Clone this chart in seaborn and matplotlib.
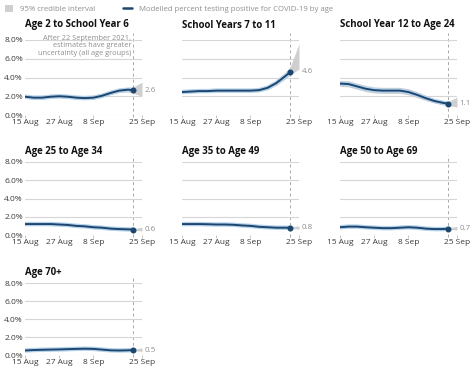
import numpy as np
import pandas as pd
import matplotlib
matplotlib.use("Agg")
import matplotlib.pyplot as plt
from matplotlib.patches import Patch
from matplotlib.lines import Line2D
import seaborn as sns

sns.set_theme(style="white")
plt.rcParams['font.family'] = ['Open Sans', 'DejaVu Sans']

# ---------------- data ----------------
line_dates = ["2021-08-15", "2021-08-18", "2021-08-21", "2021-08-24", "2021-08-27",
              "2021-08-30", "2021-09-02", "2021-09-05", "2021-09-08", "2021-09-11",
              "2021-09-14", "2021-09-17", "2021-09-20", "2021-09-22"]
ci_dates = line_dates + ["2021-09-25"]

titles = ["Age 2 to School Year 6", "School Years 7 to 11", "School Year 12 to Age 24",
          "Age 25 to Age 34", "Age 35 to Age 49", "Age 50 to Age 69", "Age 70+"]
end_labels = ["2.6", "4.6", "1.1", "0.6", "0.8", "0.7", "0.5"]

est_age2_y6 = [1.95, 1.85, 1.85, 1.95, 2.0, 1.95, 1.85, 1.8, 1.85, 2.05, 2.35, 2.6, 2.7, 2.65]
lo_age2_y6 = [1.8, 1.7, 1.7, 1.8, 1.85, 1.8, 1.7, 1.65, 1.7, 1.9, 2.2, 2.4, 2.45, 2.3, 2.0]
hi_age2_y6 = [2.1, 2.0, 2.0, 2.1, 2.15, 2.1, 2.0, 1.95, 2.0, 2.2, 2.5, 2.8, 2.95, 3.0, 3.5]

est_y7_y11 = [2.45, 2.5, 2.55, 2.55, 2.6, 2.6, 2.6, 2.6, 2.6, 2.65, 2.9, 3.4, 4.1, 4.6]
lo_y7_y11 = [2.3, 2.35, 2.4, 2.4, 2.45, 2.45, 2.45, 2.45, 2.45, 2.5, 2.7, 3.15, 3.8, 4.3, 4.9]
hi_y7_y11 = [2.6, 2.65, 2.7, 2.7, 2.75, 2.75, 2.75, 2.75, 2.75, 2.8, 3.1, 3.7, 4.5, 5.2, 7.6]

est_y12_24 = [3.35, 3.3, 3.05, 2.8, 2.65, 2.6, 2.6, 2.6, 2.45, 2.15, 1.8, 1.5, 1.3, 1.2]
lo_y12_24 = [3.05, 3.0, 2.75, 2.5, 2.35, 2.3, 2.3, 2.3, 2.15, 1.85, 1.55, 1.3, 1.1, 1.0, 0.85]
hi_y12_24 = [3.7, 3.65, 3.4, 3.15, 3.0, 2.95, 2.95, 2.95, 2.8, 2.5, 2.1, 1.75, 1.55, 1.45, 1.9]

est_25_34 = [1.2, 1.2, 1.2, 1.2, 1.15, 1.1, 1.0, 0.95, 0.85, 0.8, 0.7, 0.65, 0.62, 0.6]
lo_25_34 = [1.1, 1.1, 1.1, 1.1, 1.05, 1.0, 0.92, 0.87, 0.78, 0.72, 0.63, 0.58, 0.55, 0.52, 0.45]
hi_25_34 = [1.3, 1.3, 1.3, 1.3, 1.25, 1.2, 1.08, 1.03, 0.92, 0.88, 0.77, 0.72, 0.7, 0.7, 0.85]

est_35_49 = [1.2, 1.2, 1.2, 1.18, 1.15, 1.15, 1.12, 1.05, 1.0, 0.9, 0.85, 0.8, 0.8, 0.8]
lo_35_49 = [1.1, 1.1, 1.1, 1.1, 1.07, 1.07, 1.04, 0.98, 0.93, 0.83, 0.78, 0.73, 0.72, 0.71, 0.65]
hi_35_49 = [1.3, 1.3, 1.3, 1.26, 1.23, 1.23, 1.2, 1.12, 1.07, 0.97, 0.92, 0.87, 0.88, 0.9, 1.0]

est_50_69 = [0.85, 0.92, 0.92, 0.85, 0.8, 0.75, 0.75, 0.8, 0.85, 0.8, 0.7, 0.65, 0.65, 0.7]
lo_50_69 = [0.77, 0.85, 0.85, 0.78, 0.73, 0.68, 0.68, 0.73, 0.78, 0.73, 0.63, 0.58, 0.58, 0.62, 0.55]
hi_50_69 = [0.93, 0.99, 0.99, 0.92, 0.87, 0.82, 0.82, 0.87, 0.92, 0.87, 0.77, 0.72, 0.73, 0.78, 0.95]

est_70 = [0.5, 0.55, 0.58, 0.6, 0.62, 0.65, 0.68, 0.7, 0.68, 0.6, 0.52, 0.5, 0.52, 0.55]
lo_70 = [0.43, 0.48, 0.51, 0.53, 0.55, 0.58, 0.61, 0.63, 0.61, 0.53, 0.45, 0.43, 0.45, 0.47, 0.4]
hi_70 = [0.57, 0.62, 0.65, 0.67, 0.69, 0.72, 0.75, 0.77, 0.75, 0.67, 0.59, 0.57, 0.6, 0.63, 0.8]

estimates = [est_age2_y6, est_y7_y11, est_y12_24, est_25_34, est_35_49, est_50_69, est_70]
lows = [lo_age2_y6, lo_y7_y11, lo_y12_24, lo_25_34, lo_35_49, lo_50_69, lo_70]
highs = [hi_age2_y6, hi_y7_y11, hi_y12_24, hi_25_34, hi_35_49, hi_50_69, hi_70]

yticks = [0, 2, 4, 6, 8]
ytick_labels = ["0.0%", "2.0%", "4.0%", "6.0%", "8.0%"]
xtick_dates = ["2021-08-15", "2021-08-27", "2021-09-08", "2021-09-25"]
xtick_labels = ["15 Aug", "27 Aug", "8 Sep", "25 Sep"]
cutoff_date = "2021-09-22"
note = "After 22 September 2021,\nestimates have greater\nuncertainty (all age groups)"

# ---------------- layout ----------------
W, H = 474, 374
fig = plt.figure(figsize=(W / 100, H / 100), dpi=100)

col_lefts = [25, 182, 340]
col_width = 117
row_tops = [40, 162, 283]
row_heights = [75, 73, 72]

LINE = "#1d466e"
HALO = "#b4d2ec"
CI = "#cfcfcf"
GRID = "#d6d6d6"
TXT = "#3c3c3c"
GREY_TXT = "#8f8f8f"

ld = pd.to_datetime(line_dates)
cd = pd.to_datetime(ci_dates)
cut = pd.to_datetime(cutoff_date)

for i in range(7):
    r, c = divmod(i, 3)
    left = col_lefts[c]
    top = row_tops[r]
    h = row_heights[r]
    ax = fig.add_axes([left / W, (H - top - h) / H, col_width / W, h / H])

    ax.fill_between(cd, lows[i], highs[i], color=CI, linewidth=0, zorder=1)
    df = pd.DataFrame({"date": ld, "value": estimates[i]})
    sns.lineplot(data=df, x="date", y="value", ax=ax, color=HALO, linewidth=3.2,
                 zorder=2, solid_capstyle="round")
    sns.lineplot(data=df, x="date", y="value", ax=ax, color=LINE, linewidth=1.4,
                 zorder=3, solid_capstyle="round")
    ax.plot([ld[-1]], [estimates[i][-1]], "o", color=LINE, markersize=3.3, zorder=4)

    ax.set_xlim(pd.to_datetime(xtick_dates[0]), pd.to_datetime(xtick_dates[-1]))
    ax.set_ylim(0, 8)
    ax.set_yticks(yticks)
    ax.yaxis.grid(True, color=GRID, linewidth=0.8)
    ax.set_axisbelow(True)
    for s in ax.spines.values():
        s.set_visible(False)
    if c == 0:
        ax.set_yticklabels(ytick_labels, fontsize=6, color=TXT)
    else:
        ax.set_yticklabels([])
    ax.set_xticks(pd.to_datetime(xtick_dates))
    ax.set_xticklabels(xtick_labels, fontsize=6, color=TXT)
    ax.tick_params(axis="y", length=0, pad=1.5)
    ax.tick_params(axis="x", length=2, width=0.6, color="#bbbbbb", pad=1.2,
                   bottom=True)
    ax.set_xlabel("")
    ax.set_ylabel("")

    ax.axvline(cut, ymin=-0.03, ymax=1.1, color="#a8a8a8", linewidth=0.7,
               linestyle=(0, (3, 3)), clip_on=False, zorder=0)
    ax.set_title(titles[i], loc="left", fontsize=6.9, fontweight="bold",
                 color="#111111", pad=9 if r == 0 else 6)
    ax.annotate(end_labels[i], xy=(1.0, estimates[i][-1]),
                xycoords=("axes fraction", "data"), xytext=(2, 0),
                textcoords="offset points", ha="left", va="center",
                fontsize=5.8, color=GREY_TXT)
    if i == 0:
        ax.annotate(note, xy=(cut, 8.55), xycoords="data", xytext=(-1.5, 0),
                    textcoords="offset points", ha="right", va="top",
                    fontsize=5.35, color=GREY_TXT, linespacing=1.1,
                    annotation_clip=False)

handles = [Patch(facecolor=CI, edgecolor="none"),
           Line2D([0], [0], color=LINE, linewidth=1.8)]
fig.legend(handles, ["95% credible interval",
                     "Modelled percent testing positive for COVID-19 by age"],
           loc="upper left", bbox_to_anchor=(-0.005, 1.006), ncol=2, frameon=False,
           fontsize=5.6, labelcolor=GREY_TXT, handlelength=1.1, handleheight=1.0,
           handletextpad=0.9, columnspacing=3.6)

fig.savefig("out.png", dpi=100)
